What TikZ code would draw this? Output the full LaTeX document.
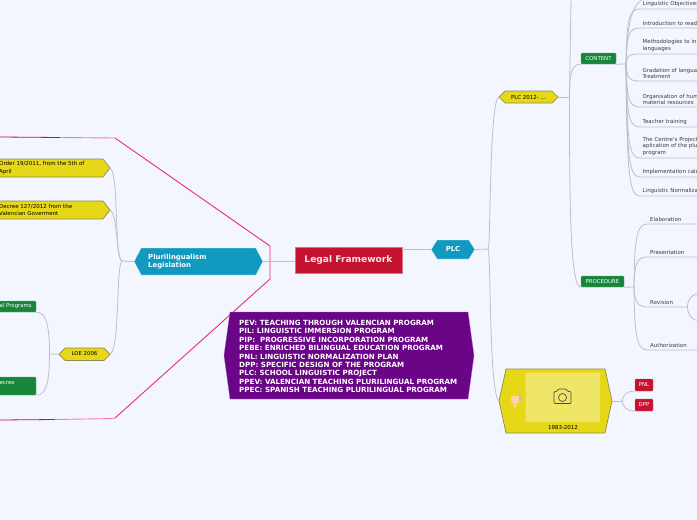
\documentclass[tikz,border=0pt]{standalone}
\usepackage{fontspec}
\setmainfont{DejaVu Sans}
\definecolor{bgc}{HTML}{F3F6FE}
\definecolor{crim}{HTML}{C5122F}
\definecolor{teal}{HTML}{1299BF}
\definecolor{yel}{HTML}{E6D817}
\definecolor{yelb}{HTML}{8C8A55}
\definecolor{grn}{HTML}{17863A}
\definecolor{purp}{HTML}{6A0587}
\definecolor{pink}{HTML}{E8306E}
\definecolor{conn}{HTML}{BDBFC9}
\definecolor{txt}{HTML}{3A3A3A}
\tikzset{
  x=1pt,y=-1pt,
  conn/.style={draw=conn,line width=.8pt,line cap=round},
  hexyellow/.style={fill=yel,draw=yelb,line width=.7pt},
  hexteal/.style={fill=teal,draw=white,line width=.4pt},
  hexpurple/.style={fill=purp,draw=purp!60!white,line width=.3pt},
  boxgreen/.style={fill=grn,draw=grn!70!white,line width=.4pt,rounded corners=1pt,inner sep=0pt},
  boxred/.style={fill=crim,draw=crim!70!white,line width=.4pt,rounded corners=1pt,inner sep=0pt},
  smalltxt/.style={font=\fontsize{5.5pt}{7.2pt}\selectfont,text=black},
  boxtxt/.style={font=\fontsize{5.4pt}{6pt}\selectfont,text=white},
  topictxt/.style={font=\fontsize{5.45pt}{6.9pt}\selectfont,text=txt,align=left,text width=140pt,
     anchor=south west,inner xsep=0pt,inner ysep=1.8pt},
  boundary/.style={draw=pink,line width=.9pt,line join=miter},
}
% name, x1, y1, x2, y2, inset, style
\newcommand{\hexshape}[7]{%
  \path[#7] (#2,{(#3+#5)/2}) -- (#2+#6,#3) -- (#4-#6,#3) -- (#4,{(#3+#5)/2}) -- (#4-#6,#5) -- (#2+#6,#5) -- cycle;
  \path (#2,#3) coordinate (#1tl) (#4,#5) coordinate (#1br);
  \node[inner sep=0pt,outer sep=0pt,fit={(#1tl)(#1br)}] (#1) {};
}
\usetikzlibrary{fit}
\begin{document}
\begin{tikzpicture}
\useasboundingbox (0,0) rectangle (697,520);
\fill[bgc] (0,0) rectangle (697,520);
\clip (0,0) rectangle (697,520);

% boundary
\path[boundary] (115,138) -- (270,246) -- (270,279) -- (115,418);
\draw[draw=crim,line width=.8pt] (0,137) -- (60,137.5);
\draw[draw=pink!60!white,line width=.9pt] (60,137.5) -- (115,138);
\draw[draw=crim,line width=.8pt] (0,420) -- (55,419.5);
\draw[draw=pink!60!white,line width=.9pt] (55,419.5) -- (115,418.5);

% central
\node[fill=crim,draw=crim!60!white,line width=.5pt,minimum width=107pt,minimum height=26pt,inner sep=0pt,
  font=\bfseries\fontsize{9.1pt}{10pt}\selectfont,text=white!88!crim] (legal) at (348.5,260) {Legal Framework};

% hexagons
\hexshape{plur}{134}{248}{263}{275}{7}{hexteal}
\hexshape{plc}{431}{240}{475}{259}{6}{hexteal}
\hexshape{order}{-30}{159}{110}{177}{7}{hexyellow}
\hexshape{decree}{-30}{201}{110}{219}{7}{hexyellow}
\hexshape{loe}{59}{348}{110}{360.5}{6}{hexyellow}
\hexshape{plcyear}{499}{91}{558}{103}{6}{hexyellow}
\hexshape{image}{499}{369}{612}{433}{7}{hexyellow}
\hexshape{abbr}{224}{312}{474}{399}{6}{hexpurple}

% node texts
\node[anchor=west,inner sep=0pt,align=left,text=white,font=\bfseries\fontsize{6.9pt}{8.2pt}\selectfont] (plurtxt) at (148,261.5) {Plurilingualism\\Legislation};
\node[font=\bfseries\fontsize{6.8pt}{8pt}\selectfont,text=white,inner sep=0pt] (plctxt) at (453,249.5) {PLC};
\node[smalltxt,anchor=west,align=left,inner sep=0pt] (ordertxt) at (-1,168) {Order 19/2011, from the 5th of\\April};
\node[smalltxt,anchor=west,align=left,inner sep=0pt] (decreetxt) at (-1,210) {Decree 127/2012 from the\\Valencian Goverment};
\node[smalltxt,inner sep=0pt,font=\fontsize{5.35pt}{7pt}\selectfont] (loetxt) at (84.5,354) {LOE 2006};
\node[smalltxt,inner sep=0pt] (plcyeartxt) at (528.5,97.5) {PLC 2012- ...};
\node[anchor=north west,align=left,inner sep=0pt,text=white,font=\bfseries\fontsize{7.12pt}{8.45pt}\selectfont] (abbrtxt) at (239,319.8)
 {PEV: TEACHING THROUGH VALENCIAN PROGRAM\\
  PIL: LINGUISTIC IMMERSION PROGRAM\\
  PIP:\ \ PROGRESSIVE INCORPORATION PROGRAM\\
  PEBE: ENRICHED BILINGUAL EDUCATION PROGRAM\\
  PNL: LINGUISTIC NORMALIZATION PLAN\\
  DPP: SPECIFIC DESIGN OF THE PROGRAM\\
  PLC: SCHOOL LINGUISTIC PROJECT\\
  PPEV: VALENCIAN TEACHING PLURILINGUAL PROGRAM\\
  PPEC: SPANISH TEACHING PLURILINGUAL PROGRAM};

% boxes
\node[boxgreen,minimum width=70pt,minimum height=11pt] (prog) at (1,306.5) {};
\node[anchor=east,inner sep=0pt,boxtxt] (progtxt) at (32,306.5) {al Programs};
\node[boxgreen,minimum width=70pt,minimum height=18pt] (dec) at (1,386) {};
\node[anchor=east,inner sep=0pt,boxtxt] (dectxt) at (15,383.5) {ecree};
\node[boxgreen,minimum width=35pt,minimum height=11pt,boxtxt] (content) at (598.5,58.5) {CONTENT};
\node[boxgreen,minimum width=43pt,minimum height=11pt,boxtxt] (proc) at (602.5,281.5) {PROCEDURE};
\node[boxred,minimum width=18pt,minimum height=12pt,boxtxt] (pnl) at (644,385) {PNL};
\node[boxred,minimum width=18pt,minimum height=12pt,boxtxt] (dpp) at (644,405) {DPP};

% image node content
\fill[fill=yel!65!white,rounded corners=2pt] (525.5,372.5) rectangle (600,422);
\draw[draw=black!70,line width=.7pt,rounded corners=1pt] (554,391.5) -- (557,391.5) -- (558.5,389) -- (566,389) -- (567.5,391.5) -- (571,391.5) -- (571,403.5) -- (554,403.5) -- cycle;
\draw[draw=black!70,line width=.7pt] (562.5,397.5) circle (4);
\fill[orange!35!white,rounded corners=1pt] (511,396) -- (520,396) -- (520,402) -- (516.5,403) -- (515.5,408) -- (513.5,408) -- (513.5,403) -- (511,402) -- cycle;
\fill[black!25] (519,396) rectangle (522,401);
\node[smalltxt,inner sep=0pt] (imgtxt) at (563,427) {1983-2012};

% connectors
\draw[conn] (plur.east) -- (legal.west |- plur.east);
\draw[conn] (legal.east |- plc.west) -- (plc.west);
\coordinate (jplur) at (122,261);
\draw[conn] (plur.west) -- (jplur);
\draw[conn] (jplur) .. controls (114,259) and (119,172) .. (order.east);
\draw[conn] (jplur) .. controls (116,258) and (118,214) .. (decree.east);
\draw[conn] (jplur) .. controls (116,264) and (120,350) .. (loe.east);
\coordinate (jloe) at (49.5,354);
\draw[conn] (loe.west) -- (jloe);
\draw[conn] (jloe) .. controls (49.5,325) and (46,312) .. (prog.south east);
\draw[conn] (jloe) .. controls (49.5,383) and (46,395) .. (dec.south east);
\coordinate (jplc) at (488,249);
\draw[conn] (plc.east) -- (jplc);
\draw[conn] (jplc) .. controls (491,245) and (489,100) .. (plcyear.west);
\draw[conn] (jplc) .. controls (491,253) and (489,395) .. (image.west);
\coordinate (jyear) at (569.5,97);
\coordinate (topedge) at (571,-2);
\draw[conn] (plcyear.east) -- (jyear);
\draw[conn] (jyear) -- (topedge);
\draw[conn] (jyear) .. controls (569.5,75) and (571,64) .. (content.south west);
\draw[conn] (jyear) .. controls (569.5,200) and (570,287) .. (proc.south west);

% CONTENT topics
\coordinate (jcont) at (626,64);
\draw[conn] (content.south east) -- (jcont);
\newcommand{\topic}[3]{%
  \node[topictxt] (#1) at (642.5,#2) {#3};
  \draw[conn] (jcont) .. controls (627,{64+(#2-64)*.75}) and (628,#2) .. ([xshift=-3pt]#1.south west) -- (#1.south east);
}
\coordinate (topc) at (645,-2);
\draw[conn] (jcont) .. controls (627,30) and (630,4) .. (topc);
\topic{tlo}{9}{Linguistic Objectives}
\topic{tir}{28}{Introduction to read}
\topic{tmi}{54}{Methodologies to int\\languages}
\topic{tgl}{81}{Gradation of langua\\Treatment}
\topic{toh}{107}{Organisation of hum\\material resources}
\topic{ttt}{127}{Teacher training}
\topic{tcp}{158}{The Centre's Project\\aplication of the plu\\program}
\topic{tic}{177}{Implementation cale}
\topic{tln}{196}{Linguistic Normaliza}

% PROCEDURE topics
\coordinate (jproc) at (634,287);
\draw[conn] (proc.south east) -- (jproc);
\newcommand{\ptopic}[3]{%
  \node[topictxt] (#1) at (650,#2) {#3};
  \draw[conn] (jproc) .. controls (634.5,{287+(#2-287)*.7}) and (636,#2) .. ([xshift=-3pt]#1.south west) -- (#1.south east);
}
\ptopic{pel}{224}{Elaboration}
\ptopic{ppr}{257}{Presentation}
\node[topictxt,text width=37pt] (pre) at (650,307) {Revision};
\draw[conn] (jproc) .. controls (634.5,298) and (636,307) .. ([xshift=-3pt]pre.south west) -- (pre.south east);
\ptopic{pau}{350}{Authorization}
\coordinate (ru) at (700,293.5);
\coordinate (rd) at (700,320.5);
\draw[conn] (pre.south east) .. controls (688,298) and (692,294) .. (ru);
\draw[conn] (pre.south east) .. controls (688,316) and (692,320.5) .. (rd);

% image children
\coordinate (jimg) at (622,401);
\draw[conn] (image.east) -- (jimg);
\draw[conn] (jimg) .. controls (623,395) and (627,391) .. (pnl.south west);
\draw[conn] (jimg) .. controls (623,407) and (627,411) .. (dpp.south west);
\end{tikzpicture}
\end{document}
